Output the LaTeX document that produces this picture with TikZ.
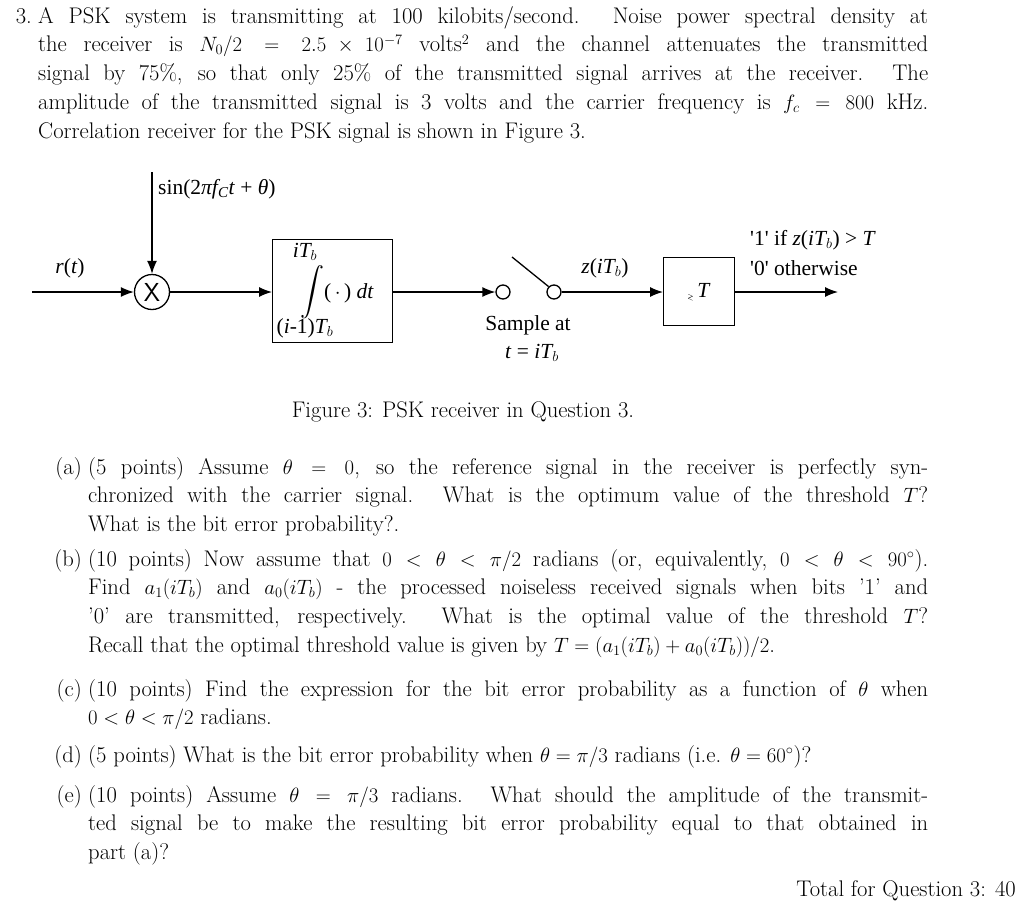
\documentclass[tikz,border=0pt]{standalone}
\usepackage{amsmath,amssymb}
\usepackage{fontspec}
\newfontfamily\tf{Liberation Serif}
\usetikzlibrary{arrows.meta}
\begin{document}
\begin{tikzpicture}[x=1pt,y=-1pt,
  txt/.style={anchor=base west,inner sep=0,align=justify,font=\fontsize{22.6}{28.8}\selectfont},
  dg/.style={inner sep=0,font=\tf\fontsize{21.5}{24}\selectfont},
  blk/.style={draw,line width=1.3pt},
  sig/.style={line width=1.3pt,-{Latex[length=13pt,width=10pt]}},
  ln/.style={line width=1.3pt}]
\useasboundingbox (0,0) rectangle (1024,913);
% question text
\node[txt,anchor=base east] (q3) at (32,23) {3.};
\node[txt,text width=890pt] (intro) at (38,23) {A PSK system is transmitting at 100 kilobits/second. Noise power spectral density at\linebreak the receiver is $N_0/2 = 2.5\times10^{-7}$ volts$^2$ and the channel attenuates the transmitted\linebreak signal by 75\%, so that only 25\% of the transmitted signal arrives at the receiver. The\linebreak amplitude of the transmitted signal is 3 volts and the carrier frequency is $f_c = 800$ kHz.\linebreak Correlation receiver for the PSK signal is shown in Figure 3.};
% diagram
\node[dg,anchor=base west] (sinl) at (158,194) {sin(2\textit{πf}$_{\!\textit{C}}$\textit{t} + \textit{θ})};
\node[dg] (rt) at (70,268) {\textit{r}(\textit{t})};
\coordinate (in) at (32,292);
\coordinate (top) at (152,172);
\node[draw,circle,line width=1.3pt,minimum size=35pt,inner sep=0,font=\fontfamily{lmss}\selectfont\fontsize{26}{28}\selectfont] (mul) at (152,292) {X};
\draw[sig] (in) -- (mul);
\draw[sig] (top) -- (mul);
\node[blk,minimum width=120pt,minimum height=103pt,anchor=north west] (int) at (272,239) {};
\draw[sig] (mul) -- (int.west |- mul);
\node[dg] (up) at (305,252) {\textit{iT$_b$}};
\node[dg] (intg) at (337,292) {\fontsize{24}{26}\selectfont$\displaystyle\int$\tf\fontsize{21.5}{24}\selectfont(\,$\cdot$\,) \textit{dt}};
\node[dg] (lo) at (305,328) {(\textit{i}-1)\textit{T$_b$}};
\node[draw,circle,line width=1.3pt,minimum size=14pt,inner sep=0] (c1) at (503,292) {};
\node[draw,circle,line width=1.3pt,minimum size=14pt,inner sep=0] (c2) at (554,292) {};
\coordinate (sw) at (512,257);
\draw[sig] (int.east |- c1) -- (c1);
\draw[ln] (sw) -- (c2.north west);
\node[blk,minimum width=71pt,minimum height=68pt,anchor=north west] (cmp) at (663,257) {};
\node[dg] (cmpl) at (699,292) {\raisebox{-0.3ex}{\shortstack{\scriptsize$>$\\[-6pt]\scriptsize$<$}}\,\textit{T}};
\draw[sig] (c2) -- (cmp.west |- c2);
\node[dg] (z) at (605,268) {\textit{z}(\textit{iT$_b$})};
\coordinate (out) at (838,292);
\draw[sig] (cmp.east |- out) -- (out);
\node[dg,anchor=west] (o1) at (750,240) {'1' if \textit{z}(\textit{iT$_b$}) > \textit{T}};
\node[dg,anchor=west] (o0) at (750,268) {'0' otherwise};
\node[dg] (samp) at (528,325) {Sample at};
\node[dg] (st) at (532,353) {\textit{t} = \textit{iT$_b$}};
\node[txt,anchor=base] (cap) at (463,417) {Figure 3: PSK receiver in Question 3.};
% parts
\node[txt,anchor=base east] (la) at (82,474) {(a)};
\node[txt,text width=840pt] (pa) at (88,474) {(5 points) Assume $\theta=0$, so the reference signal in the receiver is perfectly syn-\linebreak chronized with the carrier signal. What is the optimum value of the threshold $T$?\linebreak What is the bit error probability?.};
\node[txt,anchor=base east] (lb) at (82,566) {(b)};
\node[txt,text width=840pt] (pb) at (88,566) {(10 points) Now assume that $0<\theta<\pi/2$ radians (or, equivalently, $0<\theta<90^\circ$).\linebreak Find $a_1(iT_b)$ and $a_0(iT_b)$ - the processed noiseless received signals when bits '1' and\linebreak '0' are transmitted, respectively. What is the optimal value of the threshold $T$?\linebreak Recall that the optimal threshold value is given by $T=(a_1(iT_b)+a_0(iT_b))/2$.};
\node[txt,anchor=base east] (lc) at (82,696) {(c)};
\node[txt,text width=840pt] (pc) at (88,696) {(10 points) Find the expression for the bit error probability as a function of $\theta$ when\linebreak $0<\theta<\pi/2$ radians.};
\node[txt,anchor=base east] (ld) at (82,762) {(d)};
\node[txt,text width=840pt] (pd) at (88,762) {(5 points) What is the bit error probability when $\theta=\pi/3$ radians (i.e. $\theta=60^\circ$)?};
\node[txt,anchor=base east] (le) at (82,802) {(e)};
\node[txt,text width=840pt] (pe) at (88,802) {(10 points) Assume $\theta=\pi/3$ radians. What should the amplitude of the transmit-\linebreak ted signal be to make the resulting bit error probability equal to that obtained in\linebreak part (a)?};
\node[txt,anchor=base east] (tot) at (1016,896) {Total for Question 3: 40};
\end{tikzpicture}
\end{document}
